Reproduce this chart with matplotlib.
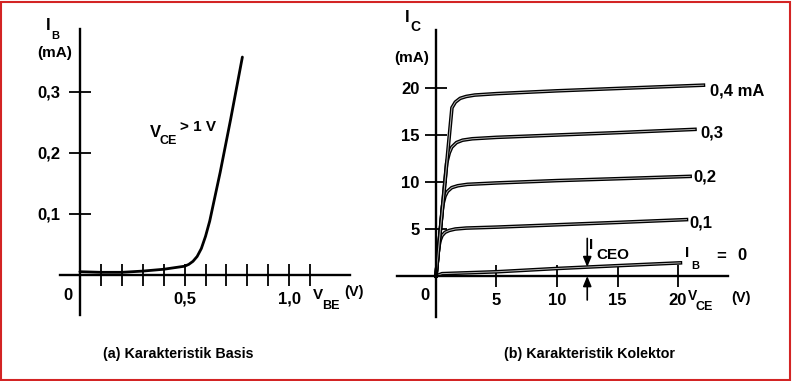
import matplotlib
matplotlib.use("Agg")
import matplotlib.pyplot as plt
from matplotlib import font_manager
from matplotlib.patches import Rectangle
import numpy as np

# ---------------- data ----------------
# (a) base characteristic
vbe = [0, 0.1, 0.2, 0.3, 0.4, 0.5, 0.52, 0.54, 0.56, 0.58, 0.6, 0.62, 0.67, 0.72, 0.776]
ib_curve = [0.005, 0.004, 0.004, 0.006, 0.009, 0.014, 0.017, 0.022, 0.03, 0.043, 0.063, 0.088,
            0.168, 0.255, 0.357]
left_xticks = [0.1, 0.2, 0.3, 0.4, 0.5, 0.6, 0.7, 0.8, 0.9, 1.0, 1.1]
left_xticklabels = ['', '', '', '', '0,5', '', '', '', '', '1,0', '']
left_yticks = [0.1, 0.2, 0.3]
left_yticklabels = ['0,1', '0,2', '0,3']

# (b) collector characteristic
vce_04 = [0, 0.7, 1.32, 1.6, 2.0, 2.5, 3.2, 5, 10, 15, 22.1]
ic_04 = [0, 9.4, 17.9, 18.5, 18.9, 19.1, 19.25, 19.4, 19.7, 19.95, 20.3]
vce_03 = [0, 0.88, 1.1, 1.3, 1.7, 2.2, 3, 5, 10, 15, 21.4]
ic_03 = [0, 12.0, 13.1, 13.7, 14.2, 14.45, 14.6, 14.75, 15.0, 15.25, 15.6]
vce_02 = [0, 0.55, 0.75, 0.95, 1.3, 1.8, 2.6, 5, 10, 15, 21.0]
ic_02 = [0, 7.5, 8.5, 9.0, 9.4, 9.6, 9.75, 9.9, 10.15, 10.35, 10.6]
vce_01 = [0, 0.22, 0.35, 0.5, 0.75, 1.1, 1.6, 2.5, 5, 10, 15, 20.7]
ic_01 = [0, 3.0, 3.8, 4.3, 4.65, 4.85, 5.0, 5.1, 5.2, 5.45, 5.7, 6.0]
vce_00 = [0, 0.5, 5, 10, 15, 20.2]
ic_00 = [0, 0.25, 0.45, 0.8, 1.1, 1.4]
curve_labels = ['0,4 mA', '0,3', '0,2', '0,1']
right_xticks = [5, 10, 15, 20]
right_xticklabels = ['5', '10', '15', '20']
right_yticks = [5, 10, 15, 20]
right_yticklabels = ['5', '10', '15', '20']
iceo_v = 12.5

# ---------------- fonts ----------------
names = {f.name for f in font_manager.fontManager.ttflist}
FONT = 'Liberation Sans' if 'Liberation Sans' in names else 'DejaVu Sans'
plt.rcParams['font.family'] = [FONT, 'DejaVu Sans']
plt.rcParams['font.weight'] = 'bold'

W, H = 792, 381
fig = plt.figure(figsize=(W / 100, H / 100), dpi=100)
fig.patch.set_facecolor('white')


def ptxt(x, y, s, size=11, ha='left', va='center', **kw):
    fig.text(x / W, 1 - y / H, s, fontsize=size, ha=ha, va=va,
             fontweight='bold', color='black', **kw)


def make_axes(x0, x1, y0, y1, xlim, ylim):
    ax = fig.add_axes([x0 / W, 1 - y1 / H, (x1 - x0) / W, (y1 - y0) / H])
    ax.set_xlim(*xlim)
    ax.set_ylim(*ylim)
    ax.patch.set_alpha(0)
    for s in ('top', 'right'):
        ax.spines[s].set_visible(False)
    for s in ('left', 'bottom'):
        ax.spines[s].set_position(('data', 0))
        ax.spines[s].set_linewidth(1.7)
    ax.tick_params(direction='inout', length=16, width=1.3, labelsize=12)
    return ax


# ---------- (a) ----------
axL = make_axes(60, 350, 29, 315, (-0.095, 1.29), (-0.066, 0.403))
axL.plot(vbe, ib_curve, color='black', lw=2.0, solid_capstyle='round',
         solid_joinstyle='round')
axL.set_xticks(left_xticks)
axL.set_xticklabels(left_xticklabels)
axL.set_yticks(left_yticks)
axL.set_yticklabels(left_yticklabels)
axL.tick_params(axis='x', pad=4)
axL.tick_params(axis='y', pad=6)

ptxt(46, 25, 'I', size=12)
ptxt(51, 36, 'B', size=8)
ptxt(55, 53, '(mA)', size=11, ha='center')
ptxt(68, 295, '0', size=12, ha='center')
ptxt(313, 295, 'V', size=11)
ptxt(322, 306, 'BE', size=9)
ptxt(344, 292, '(V)', size=10.5)
ptxt(150, 132, 'V', size=12)
ptxt(160, 141, 'CE', size=9)
ptxt(180, 127, '> 1 V', size=11)
ptxt(178, 354, '(a) Karakteristik Basis', size=10.3, ha='center')

# ---------- (b) ----------
axR = make_axes(397, 728, 30, 317, (-3.22, 24.13), (-4.36, 26.17))
for v, i in ((vce_00, ic_00), (vce_01, ic_01), (vce_02, ic_02),
             (vce_03, ic_03), (vce_04, ic_04)):
    axR.plot(v, i, color='black', lw=2.6, solid_joinstyle='round')
    axR.plot(v, i, color='#b8b8b8', lw=0.7, solid_joinstyle='round')
axR.set_xticks(right_xticks)
axR.set_xticklabels(right_xticklabels)
axR.set_yticks(right_yticks)
axR.set_yticklabels(right_yticklabels)
axR.tick_params(axis='x', pad=4)
axR.tick_params(axis='y', pad=4)

# I_CEO arrows
i_at = float(np.interp(iceo_v, vce_00, ic_00))
axR.annotate('', xy=(iceo_v, i_at), xytext=(iceo_v, 4.0),
             arrowprops=dict(arrowstyle='-|>,head_length=0.6,head_width=0.25',
                             color='black', lw=1.2, shrinkA=0, shrinkB=0))
axR.annotate('', xy=(iceo_v, 0), xytext=(iceo_v, -2.55),
             arrowprops=dict(arrowstyle='-|>,head_length=0.6,head_width=0.25',
                             color='black', lw=1.2, shrinkA=0, shrinkB=0))

ptxt(405, 18, 'I', size=12)
ptxt(410, 27, 'C', size=10)
ptxt(412, 58, '(mA)', size=11, ha='center')
ptxt(425, 296, '0', size=12, ha='center')
ptxt(688, 296, 'V', size=10)
ptxt(695, 307, 'CE', size=9)
ptxt(731, 298, '(V)', size=10.5)

ptxt(710, 91, curve_labels[0], size=12)
ptxt(700, 133, curve_labels[1], size=12)
ptxt(693, 177, curve_labels[2], size=12)
ptxt(689, 223, curve_labels[3], size=12)
ptxt(685, 253, 'I', size=11)
ptxt(691, 266, 'B', size=8)
ptxt(716, 256, '=', size=12)
ptxt(737, 255, '0', size=12)
ptxt(589, 245, 'I', size=11)
ptxt(596, 255, 'CEO', size=11)
ptxt(590, 354, '(b) Karakteristik Kolektor', size=10.3, ha='center')

# red frame
fig.patches.append(Rectangle((1 / W, 1.5 / H), 789 / W, 378 / H,
                             transform=fig.transFigure, fill=False,
                             edgecolor='#d32424', lw=1.5))

fig.savefig('out.png', dpi=100)
